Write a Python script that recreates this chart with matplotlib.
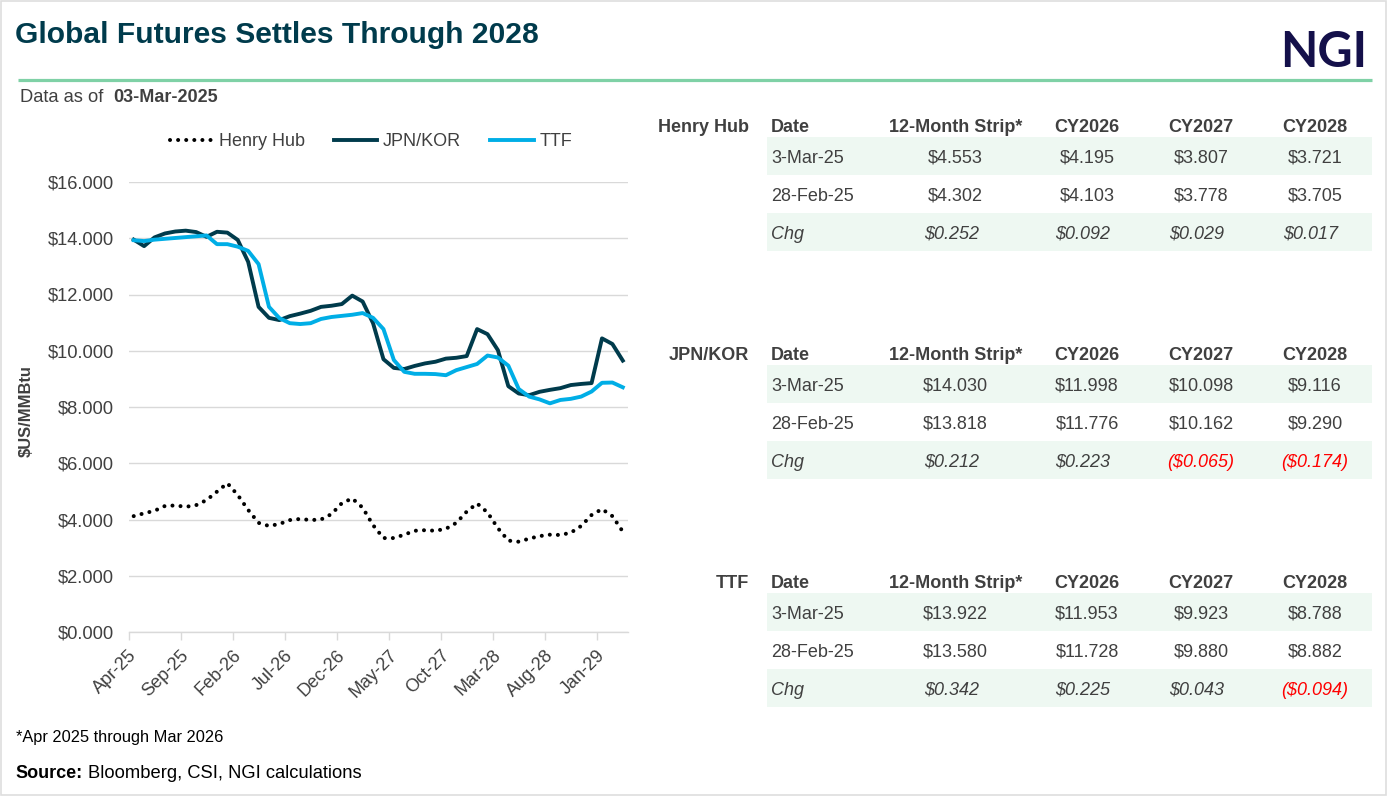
import numpy as np
import matplotlib
matplotlib.use('Agg')
import matplotlib.pyplot as plt
from matplotlib.patches import Rectangle
from matplotlib.transforms import ScaledTranslation

plt.rcParams['font.family'] = ['Liberation Sans', 'DejaVu Sans']

W, H = 1387, 796

# monthly settles, Apr-25 through Mar-29
henry_hub = [4.12, 4.22, 4.31, 4.48, 4.50, 4.45, 4.51, 4.69, 4.99, 5.29, 4.87, 4.34,
             3.88, 3.77, 3.84, 3.98, 4.02, 3.98, 4.00, 4.19, 4.58, 4.75, 4.42, 3.80,
             3.34, 3.34, 3.46, 3.60, 3.62, 3.60, 3.67, 3.88, 4.28, 4.57, 4.25, 3.69,
             3.25, 3.21, 3.32, 3.41, 3.46, 3.45, 3.53, 3.77, 4.16, 4.37, 4.12, 3.57]
jpn_kor = [13.95, 13.72, 14.03, 14.17, 14.24, 14.27, 14.22, 14.05, 14.23, 14.20, 13.94, 13.16,
           11.56, 11.17, 11.09, 11.23, 11.32, 11.42, 11.56, 11.60, 11.66, 11.96, 11.75, 10.98,
           9.70, 9.39, 9.35, 9.46, 9.55, 9.61, 9.72, 9.75, 9.81, 10.77, 10.59, 10.02,
           8.74, 8.48, 8.42, 8.54, 8.61, 8.67, 8.78, 8.82, 8.85, 10.44, 10.24, 9.65]
ttf = [13.93, 13.90, 13.95, 13.98, 14.01, 14.04, 14.07, 14.10, 13.79, 13.79, 13.70, 13.55,
       13.08, 11.56, 11.16, 10.98, 10.95, 10.98, 11.13, 11.20, 11.24, 11.28, 11.34, 11.17,
       10.77, 9.67, 9.25, 9.18, 9.18, 9.17, 9.13, 9.31, 9.42, 9.53, 9.83, 9.76,
       9.47, 8.64, 8.37, 8.27, 8.13, 8.25, 8.29, 8.37, 8.55, 8.86, 8.87, 8.70]
tick_labels = ['Apr-25', 'Sep-25', 'Feb-26', 'Jul-26', 'Dec-26',
               'May-27', 'Oct-27', 'Mar-28', 'Aug-28', 'Jan-29']

columns = ['Date', '12-Month Strip*', 'CY2026', 'CY2027', 'CY2028']
row_names = ['3-Mar-25', '28-Feb-25', 'Chg']
hub_names = ['Henry Hub', 'JPN/KOR', 'TTF']
hub_rows = [
    [['$4.553', '$4.195', '$3.807', '$3.721'],
     ['$4.302', '$4.103', '$3.778', '$3.705'],
     ['$0.252', '$0.092', '$0.029', '$0.017']],
    [['$14.030', '$11.998', '$10.098', '$9.116'],
     ['$13.818', '$11.776', '$10.162', '$9.290'],
     ['$0.212', '$0.223', '($0.065)', '($0.174)']],
    [['$13.922', '$11.953', '$9.923', '$8.788'],
     ['$13.580', '$11.728', '$9.880', '$8.882'],
     ['$0.342', '$0.225', '$0.043', '($0.094)']],
]

GREY = '#404040'
TEAL = '#003B4C'
BLUE = '#00AEE6'
BAND = '#EEF8F2'
TS = 13

fig = plt.figure(figsize=(W / 100, H / 100), dpi=100, facecolor='white')

# overlay in pixel coordinates for the page furniture and tables
page = fig.add_axes([0, 0, 1, 1])
page.set_xlim(0, W)
page.set_ylim(H, 0)
page.axis('off')

page.add_patch(Rectangle((0.5, 0.5), W - 2, H - 1.5, fill=False, ec='#DEDEDE', lw=1.2))
page.text(15, 43, 'Global Futures Settles Through 2028', fontsize=21.6, fontweight='bold',
          color=TEAL, va='baseline', ha='left')
page.text(1323.5, 67, 'NGI', fontsize=35, fontweight='bold', family='Lato',
          color='#14104A', va='baseline', ha='center')
page.plot([18, 1372], [80, 80], color='#7FD1A6', lw=2.3, solid_capstyle='butt')
page.text(20, 102.5, 'Data as of', fontsize=13.2, color=GREY, va='baseline')
page.text(113, 102.5, '03-Mar-2025', fontsize=13, fontweight='bold', color=GREY, va='baseline')
page.text(16, 742, '*Apr 2025 through Mar 2026', fontsize=11.8, color='black', va='baseline')
page.text(15, 778, 'Source:', fontsize=13, fontweight='bold', color='black', va='baseline')
page.text(88, 778, 'Bloomberg, CSI, NGI calculations', fontsize=13.2, color='black', va='baseline')

col_x = [771, 955.5, 1087, 1201, 1315]
for t, (name, rows) in enumerate(zip(hub_names, hub_rows)):
    off = 228 * t
    page.add_patch(Rectangle((767, 137 + off), 605, 38, fc=BAND, ec='none'))
    page.add_patch(Rectangle((767, 213 + off), 605, 38, fc=BAND, ec='none'))
    page.text(749, 132 + off, name, fontsize=TS, fontweight='bold', color=GREY, ha='right', va='baseline')
    page.text(col_x[0], 132 + off, columns[0], fontsize=TS, fontweight='bold', color=GREY, va='baseline')
    for x, c in zip(col_x[1:], columns[1:]):
        page.text(x, 132 + off, c, fontsize=TS, fontweight='bold', color=GREY, ha='center', va='baseline')
    for r, (label, vals) in enumerate(zip(row_names, rows)):
        y = 163 + 38 * r + off
        chg = label == 'Chg'
        style = 'italic' if chg else 'normal'
        page.text(col_x[0], y, label, fontsize=TS, style=style, color=GREY, va='baseline')
        for x, v in zip(col_x[1:], vals):
            neg = v.startswith('(')
            page.text(x - (4 if chg and not neg else 0), y, v, fontsize=TS, style=style,
                      color='#FF0000' if neg else GREY, ha='center', va='baseline')

# line chart
ax = fig.add_axes([128.5 / W, 1 - 632 / H, 499.5 / W, 450 / H])
ax.patch.set_alpha(0)
x = np.arange(len(jpn_kor))
ax.plot(x, henry_hub, color='black', lw=2.9, linestyle=(0, (0.01, 2.0)),
        dash_capstyle='round', label='Henry Hub')
ax.plot(x, jpn_kor, color=TEAL, lw=2.8, solid_joinstyle='round', label='JPN/KOR')
ax.plot(x, ttf, color=BLUE, lw=2.8, solid_joinstyle='round', label='TTF')

ax.set_xlim(-0.5, 47.5)
ax.set_ylim(0, 16)
ax.set_yticks(np.arange(0, 17, 2))
ax.set_yticklabels(['$%.3f' % v for v in np.arange(0, 17, 2)])
ax.set_xticks(np.arange(len(tick_labels)) * 5 - 0.5)
ax.set_xticklabels(tick_labels, rotation=45, ha='right', rotation_mode='anchor')
for lab in ax.get_xticklabels():
    lab.set_transform(lab.get_transform() + ScaledTranslation(5 / 100, 0, fig.dpi_scale_trans))
ax.grid(axis='y', color='#D9D9D9', lw=1.0)
ax.set_axisbelow(True)
for s in ['top', 'right', 'left']:
    ax.spines[s].set_visible(False)
ax.spines['bottom'].set_color('#D9D9D9')
ax.spines['bottom'].set_linewidth(1.0)
ax.tick_params(axis='y', length=0, pad=10.7, labelsize=13.2, labelcolor=GREY)
ax.tick_params(axis='x', length=5.5, width=1, color='#D9D9D9', pad=5, labelsize=13, labelcolor=GREY)
page.text(26, 411, '$US/MMBtu', fontsize=11.9, fontweight='bold', color=GREY,
          rotation=90, ha='center', va='center')

ax.legend(loc='center', bbox_to_anchor=(0.4855, 1.09), ncol=3, frameon=False,
          fontsize=13, labelcolor=GREY, handlelength=2.4, handletextpad=0.33,
          columnspacing=1.6)

fig.savefig('out.png', dpi=100, facecolor='white')
